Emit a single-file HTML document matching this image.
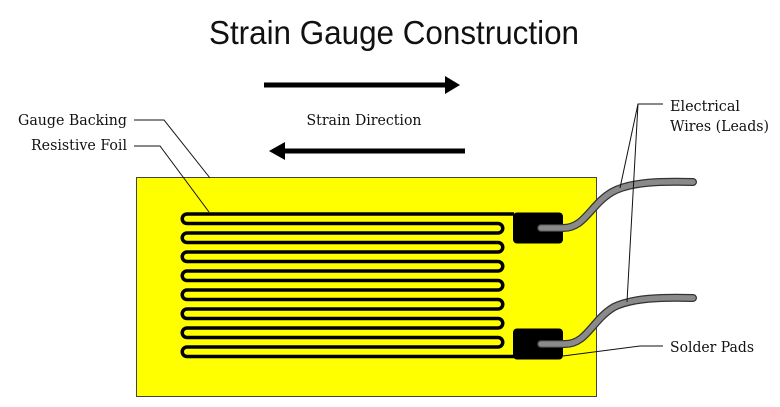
<!DOCTYPE html>
<html><head><meta charset="utf-8"><style>
html,body{margin:0;padding:0;background:#fff;}
svg{display:block;}
text{font-family:"DejaVu Serif","Liberation Serif",serif;fill:#111;}
</style></head><body>
<svg width="780" height="407" viewBox="0 0 780 407" xmlns="http://www.w3.org/2000/svg">
<text x="394" y="44" font-size="33" text-anchor="middle" textLength="370" lengthAdjust="spacingAndGlyphs" style="font-family:'Liberation Sans Narrow','Liberation Sans',sans-serif;font-weight:normal">Strain Gauge Construction</text>
<line x1="264" y1="85" x2="446" y2="85" stroke="#000" stroke-width="5"/>
<polygon points="445,76 460,85 445,94" fill="#000"/>
<line x1="285" y1="151" x2="465" y2="151" stroke="#000" stroke-width="5"/>
<polygon points="285,142 269,151 285,160" fill="#000"/>
<text x="364" y="125" font-size="15" text-anchor="middle" textLength="115" lengthAdjust="spacingAndGlyphs">Strain Direction</text>
<rect x="136.5" y="177.5" width="460" height="219" fill="#ffff00" stroke="#444" stroke-width="1"/>
<path fill="none" stroke="#000" stroke-width="3.5" stroke-linejoin="round" d="
M514,214 H187 A4.75,4.75 0 0 0 187,223.5 H498 A4.75,4.75 0 0 1 498,233
H187 A4.75,4.75 0 0 0 187,242.5 H498 A4.75,4.75 0 0 1 498,252
H187 A4.75,4.75 0 0 0 187,261.5 H498 A4.75,4.75 0 0 1 498,271
H187 A4.75,4.75 0 0 0 187,280.5 H498 A4.75,4.75 0 0 1 498,290
H187 A4.75,4.75 0 0 0 187,299.5 H498 A4.75,4.75 0 0 1 498,309
H187 A4.75,4.75 0 0 0 187,318.5 H498 A4.75,4.75 0 0 1 498,328
H187 A4.75,4.75 0 0 0 187,337.5 H498 A4.75,4.75 0 0 1 498,347
H187 A4.75,4.75 0 0 0 187,356.5 H514"/>
<rect x="513" y="212.5" width="50" height="31" rx="4" fill="#000"/>
<rect x="513" y="328.5" width="50" height="31" rx="4" fill="#000"/>
<g fill="none" stroke-linecap="round">
<path d="M541,228 H563 C585,228 590,205 612,192 C630,182 660,181 693,182" stroke="#333" stroke-width="8"/>
<path d="M541,228 H563 C585,228 590,205 612,192 C630,182 660,181 693,182" stroke="#8a8a8a" stroke-width="5.5"/>
<path d="M541,344 H565 C587,344 592,320 614,307 C632,298 662,297 693,298" stroke="#333" stroke-width="8"/>
<path d="M541,344 H565 C587,344 592,320 614,307 C632,298 662,297 693,298" stroke="#8a8a8a" stroke-width="5.5"/>
</g>
<g fill="none" stroke="#111" stroke-width="1">
<polyline points="134,120 164,120 210,178"/>
<polyline points="134,146 160,146 209,212"/>
<polyline points="663,104 638,104 620,188"/>
<line x1="638" y1="104" x2="627" y2="302"/>
<polyline points="663,346 640,346 563,356"/>
</g>
<text x="127" y="125" font-size="15" text-anchor="end" textLength="109" lengthAdjust="spacingAndGlyphs">Gauge Backing</text>
<text x="127" y="150" font-size="15" text-anchor="end" textLength="96" lengthAdjust="spacingAndGlyphs">Resistive Foil</text>
<text x="670" y="111" font-size="15" textLength="70" lengthAdjust="spacingAndGlyphs">Electrical</text>
<text x="670" y="131" font-size="15" textLength="99" lengthAdjust="spacingAndGlyphs">Wires (Leads)</text>
<text x="670" y="352" font-size="15" textLength="84" lengthAdjust="spacingAndGlyphs">Solder Pads</text>
</svg>
</body></html>
